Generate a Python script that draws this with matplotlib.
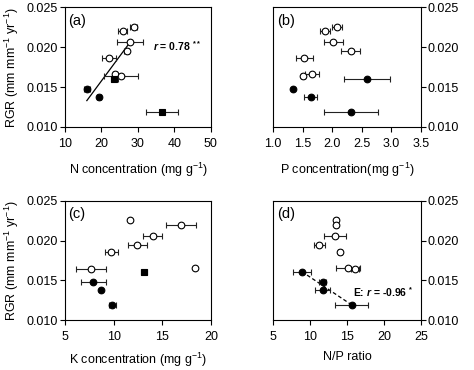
import matplotlib
matplotlib.use("Agg")
import matplotlib.pyplot as plt

plt.rcParams['font.family'] = ['Liberation Sans', 'DejaVu Sans']
plt.rcParams['mathtext.fontset'] = 'custom'
plt.rcParams['mathtext.rm'] = 'Liberation Sans'
plt.rcParams['mathtext.it'] = 'Liberation Sans:italic:bold'
plt.rcParams['mathtext.bf'] = 'Liberation Sans:bold'

# ---- data ----
rgr_open = [0.0226, 0.0220, 0.0206, 0.0195, 0.0186, 0.0166, 0.0164]
rgr_filled = [0.0160, 0.0148, 0.0138, 0.0119]

n_open = [28.8, 25.8, 27.9, 26.9, 22.1, 23.8, 25.4]
n_open_err = [1.0, 1.2, 3.6, 0.7, 2.0, 0.6, 4.6]
n_filled = [23.5, 16.0, 19.4, 36.6]
n_filled_err = [1.0, 0.8, 0.5, 4.4]
n_fit_x = [16.0, 27.8]
n_fit_y = [0.0133, 0.0206]

p_open = [2.076, 1.88, 2.02, 2.317, 1.53, 1.656, 1.504]
p_open_err = [0.085, 0.09, 0.16, 0.16, 0.14, 0.12, 0.03]
p_filled = [2.59, 1.336, 1.64, 2.317]
p_filled_err = [0.39, 0.0, 0.11, 0.45]

k_open = [11.73, 16.92, 14.0, 12.45, 9.78, 18.36, 7.72]
k_open_err = [0.0, 1.57, 0.99, 0.96, 0.69, 0.0, 1.55]
k_filled = [13.14, 7.93, 8.68, 9.88]
k_filled_err = [0.3, 1.3, 0.0, 0.4]

np_open = [13.53, 13.53, 13.4, 11.28, 14.07, 15.1, 16.1]
np_open_err = [0.2, 0.2, 1.45, 0.8, 0.3, 1.6, 0.5]
np_filled = [8.9, 11.73, 11.73, 15.65]
np_filled_err = [1.2, 0.5, 1.0, 2.25]
np_fit_x = [8.9, 15.65]
np_fit_y = [0.0161, 0.0119]

y_ticks = [0.010, 0.015, 0.020, 0.025]
y_ticklabels = ['0.010', '0.015', '0.020', '0.025']

fig = plt.figure(figsize=(4.74, 3.70), dpi=100)
pos = {
    'a': [0.137, 0.657, 0.308, 0.323],
    'b': [0.576, 0.657, 0.312, 0.323],
    'c': [0.137, 0.135, 0.308, 0.322],
    'd': [0.576, 0.135, 0.312, 0.322],
}

FS = 9
ebkw = dict(ecolor='#222222', elinewidth=0.8, capsize=2.5, capthick=0.8, linestyle='none')


def draw(ax, xo, xoe, xf, xfe, filled_markers):
    for i in range(len(xo)):
        ax.errorbar(xo[i], rgr_open[i], xerr=xoe[i], marker='o', ms=4.8,
                    mfc='white', mec='black', mew=0.8, zorder=3, **ebkw)
    for i in range(len(xf)):
        ax.errorbar(xf[i], rgr_filled[i], xerr=xfe[i], marker=filled_markers[i], ms=4.8,
                    mfc='black', mec='black', mew=0.8, zorder=4, **ebkw)


def style(ax, xlim, xticks, xticklabels, xlabel, side, label, xlabelpad):
    ax.set_xlim(*xlim)
    ax.set_ylim(0.010, 0.025)
    ax.set_xticks(xticks)
    ax.set_xticklabels(xticklabels)
    ax.set_yticks(y_ticks)
    ax.set_yticklabels(y_ticklabels)
    ax.tick_params(direction='out', length=3.5, width=0.8, labelsize=FS)
    ax.tick_params(axis='x', pad=4.5)
    ax.tick_params(axis='y', pad=1.5)
    for s in ax.spines.values():
        s.set_linewidth(0.8)
    if side == 'right':
        ax.yaxis.tick_right()
    else:
        ax.set_ylabel(r'RGR (mm mm$^{-1}$ yr$^{-1}$)', fontsize=FS, labelpad=4)
    ax.set_xlabel(xlabel, fontsize=FS, labelpad=xlabelpad)
    ax.text(0.025, 0.886, label, transform=ax.transAxes, ha='left', va='center', fontsize=10.5)


axa = fig.add_axes(pos['a'])
draw(axa, n_open, n_open_err, n_filled, n_filled_err, ['s', 'o', 'o', 's'])
axa.plot(n_fit_x, n_fit_y, color='black', lw=0.9, zorder=2)
axa.text(34.0, 0.0201, r'$r$ = 0.78 $^{\mathbf{**}}$', fontsize=7.5, fontweight='bold', va='center')
style(axa, (10, 50), [10, 20, 30, 40, 50], ['10', '20', '30', '40', '50'],
      r'N concentration (mg g$^{-1}$)', 'left', '(a)', 8)

axb = fig.add_axes(pos['b'])
draw(axb, p_open, p_open_err, p_filled, p_filled_err, ['o', 'o', 'o', 'o'])
style(axb, (1.0, 3.5), [1.0, 1.5, 2.0, 2.5, 3.0, 3.5], ['1.0', '1.5', '2.0', '2.5', '3.0', '3.5'],
      r'P concentration(mg g$^{-1}$)', 'right', '(b)', 8)

axc = fig.add_axes(pos['c'])
draw(axc, k_open, k_open_err, k_filled, k_filled_err, ['s', 'o', 'o', 'o'])
style(axc, (5, 20), [5, 10, 15, 20], ['5', '10', '15', '20'],
      r'K concentration (mg g$^{-1}$)', 'left', '(c)', 5.5)

axd = fig.add_axes(pos['d'])
draw(axd, np_open, np_open_err, np_filled, np_filled_err, ['o', 'o', 'o', 'o'])
axd.plot(np_fit_x, np_fit_y, color='black', lw=0.9, ls=(0, (3, 2)), zorder=2)
axd.text(15.8, 0.0135, r'E: $r$ = -0.96 $^{\mathbf{*}}$', fontsize=7.5, fontweight='bold', va='center')
style(axd, (5, 25), [5, 10, 15, 20, 25], ['5', '10', '15', '20', '25'],
      'N/P ratio', 'right', '(d)', 5.5)

fig.savefig('out.png', dpi=100)
